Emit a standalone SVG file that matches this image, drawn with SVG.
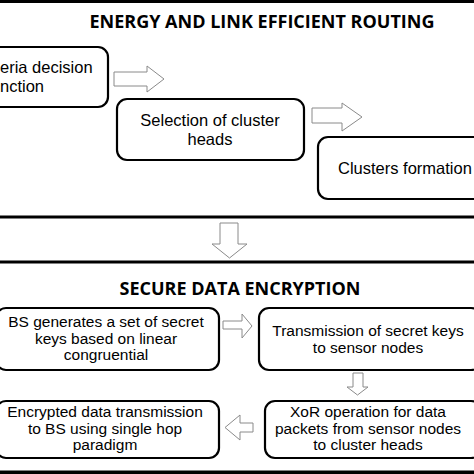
<svg xmlns="http://www.w3.org/2000/svg" width="474" height="474" viewBox="0 0 474 474">
<style>
.box{fill:#fff;stroke:#000;stroke-width:2.2}
.t{font-family:"Liberation Sans","Open Sans",sans-serif;font-size:15.5px;fill:#000;text-anchor:middle}
.tl{font-family:"Liberation Sans","Open Sans",sans-serif;font-size:16.5px;fill:#000;text-anchor:middle}
.h{font-family:"Open Sans","Liberation Sans",sans-serif;font-size:18px;font-weight:bold;fill:#000;text-anchor:middle}
.arr{fill:#fff;stroke:#8a8a8a;stroke-width:1}
.sep{stroke:#000;stroke-width:3}
</style>
<rect width="474" height="474" fill="#fff"/>
<g id="separators">
<line class="sep" x1="0" y1="1.5" x2="474" y2="1.5"/>
<line class="sep" x1="0" y1="217" x2="474" y2="217"/>
<line class="sep" x1="0" y1="262" x2="474" y2="262"/>
<line x1="0" y1="472.5" x2="474" y2="472.5" stroke="#000" stroke-width="4"/>
</g>
<text class="h" x="262" y="28">ENERGY AND LINK EFFICIENT ROUTING</text>
<text class="h" x="240" y="295">SECURE DATA ENCRYPTION</text>
<g id="n1">
<rect class="box" x="-20" y="47" width="128" height="60" rx="10"/>
<text class="tl" x="0" y="73" style="text-anchor:start">eria decision</text>
<text class="tl" x="0" y="92" style="text-anchor:start">nction</text>
</g>
<g id="n2">
<rect class="box" x="117" y="99" width="187" height="61" rx="10"/>
<text class="tl" x="210" y="126">Selection of cluster</text>
<text class="tl" x="210" y="145">heads</text>
</g>
<g id="n3">
<rect class="box" x="318" y="137" width="170" height="62" rx="10"/>
<text class="tl" x="338" y="174" style="text-anchor:start">Clusters formation</text>
</g>
<g id="n4">
<rect class="box" x="-4" y="308" width="223" height="62" rx="10"/>
<text class="t" x="106" y="327">BS generates a set of secret</text>
<text class="t" x="106" y="343.5">keys based on  linear</text>
<text class="t" x="106" y="360">congruential</text>
</g>
<g id="n5">
<rect class="box" x="259" y="308" width="222" height="62" rx="10"/>
<text class="t" x="368" y="336">Transmission of secret keys</text>
<text class="t" x="368" y="353">to sensor nodes</text>
</g>
<g id="n6">
<rect class="box" x="-4" y="401" width="223" height="57" rx="10"/>
<text class="t" x="105" y="417">Encrypted data transmission</text>
<text class="t" x="105" y="433.5">to BS using single hop</text>
<text class="t" x="105" y="450">paradigm</text>
</g>
<g id="n7">
<rect class="box" x="265" y="401" width="216" height="57" rx="10"/>
<text class="t" x="368" y="417">XoR operation for data</text>
<text class="t" x="368" y="433.5">packets from sensor nodes</text>
<text class="t" x="368" y="450">to cluster heads</text>
</g>
<g id="connectors">
<path class="arr" d="M114,72 H147 V66 L164,79 L147,92 V86 H114 Z"/>
<path class="arr" d="M312,108 H342 V103 L362,117 L342,131 V123 H312 Z"/>
<path class="arr" d="M220,223 H238 V244 H247 L229.5,258 L212,244 H220 Z"/>
<path class="arr" d="M223,321 H242 V314 L252,326 L242,338 V329 H223 Z"/>
<path class="arr" d="M353,373 H363 V387 H368 L357.5,395 L347,387 H353 Z"/>
<path class="arr" d="M253,423 H240 V415 L225,427.5 L240,440 V432 H253 Z"/>
</g>
</svg>
